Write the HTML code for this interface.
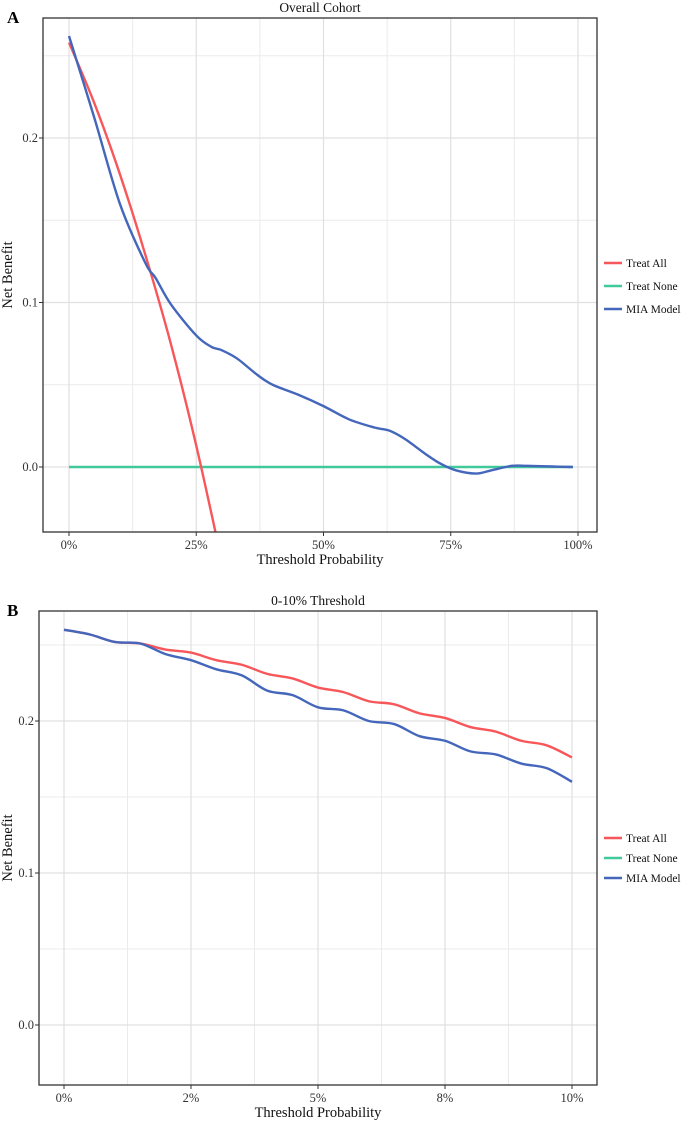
<!DOCTYPE html>
<html><head><meta charset="utf-8">
<style>
body{margin:0;background:#fff;}
svg{display:block;font-family:"Liberation Serif",serif;}
</style></head>
<body>
<svg id="fig" width="685" height="1122" viewBox="0 0 685 1122"></svg>
<script>
// Panel A data
const thrA = [0,0.05,0.10,0.15,0.17,0.20,0.25,0.28,0.30,0.33,0.37,0.40,0.45,0.50,0.55,0.60,0.63,0.66,0.70,0.73,0.76,0.80,0.83,0.87,0.90,0.95,0.99];
const mia_A = [0.262,0.212,0.160,0.124,0.115,0.099,0.080,0.073,0.071,0.066,0.056,0.050,0.044,0.037,0.029,0.024,0.022,0.017,0.008,0.002,-0.002,-0.004,-0.002,0.0007,0.0007,0.0003,0];
const thrAllA = [0,0.05,0.10,0.15,0.20,0.25,0.30];
const treatAll_A = [0.258,0.221,0.178,0.129,0.075,0.013,-0.057];
const treatNone_A = [0,0];
const thrNoneA = [0,0.99];
const ticksA_x = [0,0.25,0.5,0.75,1.0];
const ticksA_xlab = ["0%","25%","50%","75%","100%"];
// Panel B data
const thrB = [0,0.005,0.01,0.015,0.02,0.025,0.03,0.035,0.04,0.045,0.05,0.055,0.06,0.065,0.07,0.075,0.08,0.085,0.09,0.095,0.10];
const treatAll_B = [0.260,0.257,0.252,0.251,0.247,0.245,0.240,0.237,0.231,0.228,0.222,0.219,0.213,0.211,0.205,0.202,0.196,0.193,0.187,0.184,0.176];
const mia_B = [0.260,0.257,0.252,0.251,0.244,0.240,0.234,0.230,0.220,0.217,0.209,0.207,0.200,0.198,0.190,0.187,0.180,0.178,0.172,0.169,0.160];
const ticksB_x = [0,0.025,0.05,0.075,0.10];
const ticksB_xlab = ["0%","2%","5%","8%","10%"];
const ticksY = [0,0.1,0.2];
const ticksY_lab = ["0.0","0.1","0.2"];
const legendLabels = ["Treat All","Treat None","MIA Model"];
const colors = ["#f8575a","#41c99b","#4466bb"];

const NS="http://www.w3.org/2000/svg";
const svg=document.getElementById('fig');
function mk(tag,attrs,parent){const e=document.createElementNS(NS,tag);for(const k in attrs)e.setAttribute(k,attrs[k]);(parent||svg).appendChild(e);return e;}
function txt(s,attrs,parent){const e=mk('text',attrs,parent);e.textContent=s;return e;}
function smooth(pts){
  let d='M'+pts[0][0].toFixed(2)+','+pts[0][1].toFixed(2);
  for(let i=0;i<pts.length-1;i++){
    const p0=pts[Math.max(i-1,0)],p1=pts[i],p2=pts[i+1],p3=pts[Math.min(i+2,pts.length-1)];
    const c1=[p1[0]+(p2[0]-p0[0])/6,p1[1]+(p2[1]-p0[1])/6];
    const c2=[p2[0]-(p3[0]-p1[0])/6,p2[1]-(p3[1]-p1[1])/6];
    d+=' C'+c1.map(v=>v.toFixed(2))+' '+c2.map(v=>v.toFixed(2))+' '+p2[0].toFixed(2)+','+p2[1].toFixed(2);
  }
  return d;
}
function panel(o){
  const g=mk('g',{});
  
  
  const X=v=>o.x0+(v-o.xmin)/(o.xmax-o.xmin)*(o.x1-o.x0);
  const Y=v=>o.y0-(v)*o.ppu;
  for(let i=0;i<o.xt.length-1;i++){const m=(o.xt[i]+o.xt[i+1])/2;const l=mk('line',{x1:X(m),x2:X(m),y1:o.top,y2:o.bot,stroke:'#ebebeb','stroke-width':1},g);}
  for(let i=0;i<ticksY.length;i++){const m=ticksY[i]+0.05;const l=mk('line',{x1:o.left,x2:o.right,y1:Y(m),y2:Y(m),stroke:'#ebebeb','stroke-width':1},g);}
  o.xt.forEach(v=>{const l=mk('line',{x1:X(v),x2:X(v),y1:o.top,y2:o.bot,stroke:'#e0e0e0','stroke-width':1.2},g);});
  ticksY.forEach(v=>{const l=mk('line',{x1:o.left,x2:o.right,y1:Y(v),y2:Y(v),stroke:'#e0e0e0','stroke-width':1.2},g);});
  const cid='clip'+o.name;
  const cp=mk('clipPath',{id:cid},g);mk('rect',{x:o.left,y:o.top,width:o.right-o.left,height:o.bot-o.top},cp);
  const series=mk('g',{'clip-path':'url(#'+cid+')'},g);
  o.series.forEach(s=>{
    const pts=s.x.map((v,i)=>[X(v),Y(s.y[i])]);
    const p=mk('path',{d:smooth(pts),fill:'none',stroke:s.c,'stroke-width':2.4,'stroke-linecap':'butt'},series);
    
    
  });
  const fr=mk('rect',{x:o.left,y:o.top,width:o.right-o.left,height:o.bot-o.top,fill:'none',stroke:'#333','stroke-width':1.3},g);
  
  o.xt.forEach((v,i)=>{
    mk('line',{x1:X(v),x2:X(v),y1:o.bot,y2:o.bot+4,stroke:'#333','stroke-width':1},g);
    const t=txt(o.xl[i],{x:X(v),y:o.bot+17,'text-anchor':'middle','font-size':12.5,fill:'#333'},g);
    
  });
  ticksY.forEach((v,i)=>{
    mk('line',{x1:o.left-4,x2:o.left,y1:Y(v),y2:Y(v),stroke:'#333','stroke-width':1},g);
    const t=txt(ticksY_lab[i],{x:o.left-5,y:Y(v)+4,'text-anchor':'end','font-size':12.5,fill:'#333'},g);
    
  });
  const ti=txt(o.title,{x:(o.left+o.right)/2,y:o.top-6,'text-anchor':'middle','font-size':13.5,fill:'#111'},g);
  
  const xt=txt('Threshold Probability',{x:(o.left+o.right)/2,y:o.bot+32,'text-anchor':'middle','font-size':14.5,fill:'#111'},g);
  
  const cy=(o.top+o.bot)/2;
  const yt=txt('Net Benefit',{x:12,y:cy,'text-anchor':'middle','font-size':14.5,fill:'#111',transform:'rotate(-90 12 '+cy+')'},g);
  
  const lb=txt(o.letter,{x:7,y:o.top+5,'font-size':17,'font-weight':'bold',fill:'#000'},g);
  
  legendLabels.forEach((s,i)=>{
    const ly=o.legY+i*o.legDy;
    const e=mk('g',{},g);
    
    
    mk('line',{x1:604,x2:622,y1:ly,y2:ly,stroke:colors[i],'stroke-width':2.6},e);
    txt(s,{x:626,y:ly+4,'font-size':11.5,fill:'#111'},e);
  });
}
panel({name:'panel-a-overall-cohort',title:'Overall Cohort',letter:'A',left:43,right:597,top:18,bot:532,
  x0:69,x1:578,xmin:0,xmax:1,y0:467,ppu:1645,xt:ticksA_x,xl:ticksA_xlab,legY:263,legDy:23,
  series:[{n:'treat-none-line',x:thrNoneA,y:treatNone_A,c:colors[1]},{n:'treat-all-line',x:thrAllA,y:treatAll_A,c:colors[0]},{n:'mia-model-line',x:thrA,y:mia_A,c:colors[2]}]});
panel({name:'panel-b-0-10-threshold',title:'0-10% Threshold',letter:'B',left:39,right:597,top:611,bot:1085,
  x0:64,x1:572,xmin:0,xmax:0.1,y0:1025,ppu:1520,xt:ticksB_x,xl:ticksB_xlab,legY:838,legDy:20,
  series:[{n:'treat-all-line',x:thrB,y:treatAll_B,c:colors[0]},{n:'mia-model-line',x:thrB,y:mia_B,c:colors[2]}]});
</script>
</body></html>
